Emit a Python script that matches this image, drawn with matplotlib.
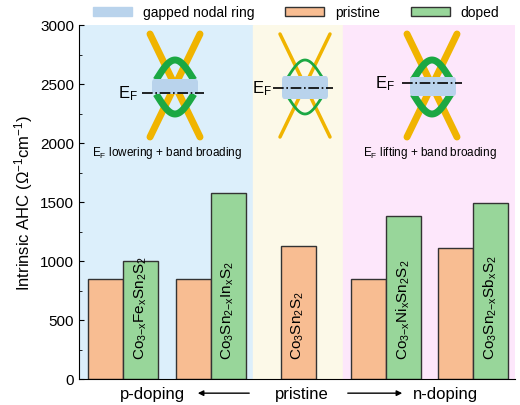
import matplotlib
matplotlib.use('Agg')
import matplotlib.pyplot as plt
import numpy as np
from matplotlib.patches import Patch, FancyBboxPatch

# data
positions = [0, 1, 2, 3, 4]
pristine_vals = [850, 850, 1130, 850, 1110]
doped_vals = [1000, 1575, None, 1385, 1495]
labels = [r'Co$_{3\mathrm{-}x}$Fe$_x$Sn$_2$S$_2$',
          r'Co$_3$Sn$_{2\mathrm{-}x}$In$_x$S$_2$',
          r'Co$_3$Sn$_2$S$_2$',
          r'Co$_{3\mathrm{-}x}$Ni$_x$Sn$_2$S$_2$',
          r'Co$_3$Sn$_{2\mathrm{-}x}$Sb$_x$S$_2$']

c_or = '#F8BD92'
c_gr = '#98D69A'
c_ring = '#B9D3EC'
w = 0.4

plt.rcParams['font.family'] = 'Liberation Sans'
plt.rcParams['font.size'] = 11
plt.rcParams['mathtext.fontset'] = 'custom'
plt.rcParams['mathtext.rm'] = 'Liberation Sans'
plt.rcParams['mathtext.it'] = 'Liberation Sans'
plt.rcParams['mathtext.default'] = 'rm'

fig = plt.figure(figsize=(5.2, 4.06), dpi=100)
ax = fig.add_axes([79/520, 26/406, 436/520, 354/406])

def xd(px):
    return (px - 123) / 87.5

def yd(py):
    return (380 - py) * 3000 / 354

ax.set_xlim(xd(79), xd(515))
ax.set_ylim(0, 3000)
ax.axvspan(xd(79), xd(253), color='#DCEFFB', zorder=0)
ax.axvspan(xd(253), xd(343), color='#FCF9E8', zorder=0)
ax.axvspan(xd(343), xd(515), color='#FDE7FB', zorder=0)

for p, po, dv, lab in zip(positions, pristine_vals, doped_vals, labels):
    if dv is None:
        ax.bar(p, po, w, color=c_or, edgecolor='#333333', lw=1, zorder=2)
        ax.text(p, 170, lab, rotation=90, ha='center', va='bottom', fontsize=11, zorder=3)
    else:
        ax.bar(p - w/2, po, w, color=c_or, edgecolor='#333333', lw=1, zorder=2)
        ax.bar(p + w/2, dv, w, color=c_gr, edgecolor='#333333', lw=1, zorder=2)
        ax.text(p + w/2, 170, lab, rotation=90, ha='center', va='bottom', fontsize=11, zorder=3)

# band diagrams
def diagram(cx, ef_y, ef_x0, ef_x1, ring, thick, lab_x):
    lw_o = 5 if thick else 2.5
    lw_g = 5 if thick else 2
    ax.plot([xd(cx-25), xd(cx+25)], [yd(35), yd(138)], color='#F0B400', lw=lw_o, solid_capstyle='round', zorder=4)
    ax.plot([xd(cx+25), xd(cx-25)], [yd(35), yd(138)], color='#F0B400', lw=lw_o, solid_capstyle='round', zorder=4)
    t = np.linspace(-1, 1, 40)
    xs = cx + 17 * t
    ax.plot(xd(xs), yd(78 - 17 * np.cos(t * np.pi / 2)), color='#1BA843', lw=lw_g, zorder=5)
    ax.plot(xd(xs), yd(98 + 17 * np.cos(t * np.pi / 2)), color='#1BA843', lw=lw_g, zorder=5)
    x0, x1, y0, y1 = ring
    ax.add_patch(FancyBboxPatch((xd(x0), yd(y1)), xd(x1) - xd(x0), yd(y0) - yd(y1),
                                boxstyle='round,pad=0,rounding_size=0.03', color=c_ring,
                                ec='none', zorder=6, mutation_aspect=1000))
    ax.plot([xd(ef_x0), xd(ef_x1)], [yd(ef_y)] * 2, color='k', ls='-.', lw=1.2, zorder=7)
    ax.text(xd(lab_x), yd(ef_y), r'E$_\mathrm{F}$', ha='right', va='center', fontsize=12, zorder=7)

diagram(175, 94, 142, 204, (152, 198, 80, 95), True, 138)
diagram(305, 89, 273, 333, (282, 328, 77, 100), False, 272)
diagram(432, 84, 402, 462, (410, 456, 78, 97), True, 395)
ax.text(xd(167), yd(153), r'E$_\mathrm{F}$ lowering + band broading', ha='center', va='center', fontsize=8.5)
ax.text(xd(430), yd(153), r'E$_\mathrm{F}$ lifting + band broading', ha='center', va='center', fontsize=8.5)

ax.set_xticks([])
ax.set_yticks([0, 500, 1000, 1500, 2000, 2500, 3000])
ax.set_yticks([250, 750, 1250, 1750, 2250, 2750], minor=True)
ax.tick_params(axis='y', direction='in', labelsize=11)
ax.tick_params(axis='y', which='minor', direction='in', length=2)
for s in ['top', 'right']:
    ax.spines[s].set_visible(False)
ax.set_ylabel(r'Intrinsic AHC ($\Omega^{-1}$cm$^{-1}$)', fontsize=12)

# x-axis category labels with arrows
ty = -0.04
ax.text(xd(152), ty, 'p-doping', transform=ax.get_xaxis_transform(), ha='center', va='center', fontsize=12)
ax.text(xd(302), ty, 'pristine', transform=ax.get_xaxis_transform(), ha='center', va='center', fontsize=12)
ax.text(xd(445), ty, 'n-doping', transform=ax.get_xaxis_transform(), ha='center', va='center', fontsize=12)
ax.annotate('', xy=(xd(195), ty), xytext=(xd(252), ty), xycoords=ax.get_xaxis_transform(),
            arrowprops=dict(arrowstyle='-|>', color='k', lw=1, mutation_scale=8))
ax.annotate('', xy=(xd(405), ty), xytext=(xd(345), ty), xycoords=ax.get_xaxis_transform(),
            arrowprops=dict(arrowstyle='-|>', color='k', lw=1, mutation_scale=8))

handles = [Patch(color=c_ring, label='gapped nodal ring'),
           Patch(facecolor=c_or, edgecolor='#333333', label='pristine'),
           Patch(facecolor=c_gr, edgecolor='#333333', label='doped')]
fig.legend(handles=handles, loc='upper center', bbox_to_anchor=(0.57, 1.015), ncol=3,
           frameon=False, fontsize=10, columnspacing=2.2, handlelength=2.8)

fig.savefig('out.png', dpi=100)
